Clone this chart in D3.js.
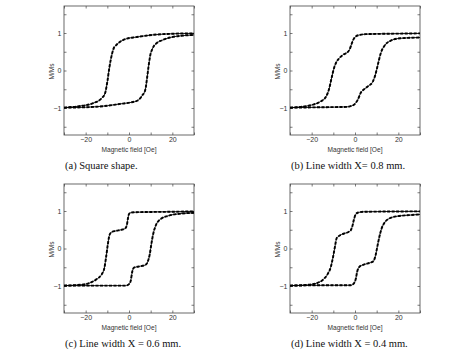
<!DOCTYPE html>
<html lang="en">
<head>
<meta charset="UTF-8">
<title>Hysteresis loops</title>
<script src="https://d3js.org/d3.v7.min.js"></script>
<style>
  body { margin: 0; background: #fff; }
  svg { display: block; }
  .tick text { font-family: 'Liberation Sans', Arial, sans-serif; font-size: 7px; fill: #333; }
  .tick line { stroke: #444; stroke-width: 0.7px; }
  .domain { display: none; }
  .frame { fill: none; stroke: #444; stroke-width: 0.8px; }
  .lbl { font-family: 'Liberation Sans', Arial, sans-serif; font-size: 6.6px; fill: #333; }
  .cap { font-family: 'Liberation Serif', 'Times New Roman', serif; font-size: 10.5px; fill: #111; }
  .thin { fill: none; stroke: #000; stroke-width: 0.9px; }
  .dash { fill: none; stroke: #000; stroke-width: 1.9px; stroke-dasharray: 3 1.5; }
</style>
</head>
<body>
<script>
// field [Oe], M/Ms  -- descending (down) and ascending (up) branches
const squareDown = [[-30,-0.99],[-23,-0.95],[-16.5,-0.87],[-12.6,-0.74],[-11,-0.6],[-10,-0.3],[-9,0.1],[-7.8,0.45],[-7,0.6],[-6.2,0.66],[-4,0.77],[-1,0.85],[3.3,0.89],[11,0.95],[20,0.98],[30,0.99]];
const squareUp = [[-30,-0.99],[-20,-0.98],[-10,-0.94],[-4,-0.89],[1,-0.85],[4,-0.8],[6.2,-0.66],[7.5,-0.52],[8.3,-0.22],[9,0.1],[9.8,0.4],[11,0.6],[13,0.74],[15,0.8],[19,0.88],[25,0.93],[30,0.95]];

const w08Down = [[-30,-0.99],[-25,-0.97],[-20,-0.92],[-16,-0.83],[-13.4,-0.7],[-12,-0.5],[-10.8,-0.2],[-9.6,0.08],[-8.8,0.2],[-7.4,0.32],[-5.2,0.43],[-3.2,0.5],[-2.5,0.56],[-1.5,0.72],[-0.4,0.86],[1.5,0.94],[5,0.97],[15,0.98],[30,0.99]];
const w08Up = [[-30,-0.99],[-15,-0.98],[-4,-0.97],[-1,-0.93],[1.2,-0.79],[2.8,-0.58],[4.2,-0.5],[6.5,-0.4],[8.2,-0.3],[9.2,-0.15],[10,0.02],[10.9,0.24],[12,0.48],[13.6,0.66],[16.3,0.79],[21,0.86],[30,0.88]];

const w06Down = [[-30,-0.99],[-21,-0.96],[-17,-0.89],[-14.5,-0.8],[-12.5,-0.68],[-11.4,-0.53],[-10.5,-0.2],[-9.8,0.1],[-9,0.36],[-8,0.44],[-6,0.47],[-3.5,0.5],[-1.8,0.53],[-1,0.62],[-0.5,0.8],[0,0.92],[1,0.96],[5,0.97],[20,0.98],[30,0.99]];
const w06Up = [[-30,-0.99],[-10,-0.99],[-1.5,-0.99],[0,-0.95],[0.8,-0.86],[1.5,-0.62],[2.3,-0.51],[4.5,-0.48],[7.5,-0.44],[8.6,-0.36],[9.6,-0.15],[10.4,0.15],[11.3,0.42],[12.4,0.62],[14.5,0.78],[18,0.87],[24,0.93],[30,0.95]];

const w04Down = [[-30,-0.99],[-22,-0.97],[-17.5,-0.92],[-14.5,-0.82],[-12.5,-0.67],[-11.2,-0.5],[-10.1,-0.22],[-9.1,0.1],[-8.5,0.27],[-7.5,0.33],[-5,0.4],[-3,0.44],[-2,0.48],[-1.2,0.6],[-0.5,0.77],[0.3,0.91],[1.5,0.96],[4,0.98],[30,0.99]];
const w04Up = [[-30,-0.99],[-10,-0.98],[-2,-0.98],[-0.5,-0.93],[0.4,-0.8],[1,-0.62],[2,-0.49],[4,-0.43],[7,-0.38],[8.5,-0.34],[9.5,-0.18],[10.3,0.05],[11.2,0.3],[12.2,0.52],[13.3,0.66],[15.5,0.79],[19.4,0.86],[25,0.89],[30,0.91]];

const captions = ["(a) Square shape.", "(b) Line width X= 0.8 mm.", "(c) Line width X = 0.6 mm.", "(d) Line width X = 0.4 mm."];
const xTicks = [-30, -20, -10, 0, 10, 20, 30];
const xLabels = [-20, 0, 20];
const yTicks = [-1.5, -1, -0.5, 0, 0.5, 1, 1.5];
const yLabels = [-1, 0, 1];

const curves = [[squareDown, squareUp], [w08Down, w08Up], [w06Down, w06Up], [w04Down, w04Up]];
const origins = [[64, 6], [290, 6], [64, 184], [290, 184]];

const width = 130, height = 129;

const x = d3.scaleLinear().domain([-30, 30]).range([0, width]);
const y = d3.scaleLinear().domain([-1.72, 1.72]).range([height, 0]);

const line = d3.line()
    .x(d => x(d[0]))
    .y(d => y(d[1]))
    .curve(d3.curveMonotoneX);

const svg = d3.select("body").append("svg")
    .attr("width", 474)
    .attr("height", 353);

svg.append("rect").attr("width", 474).attr("height", 353).attr("fill", "#fff");

const fmt = d3.format("");

curves.forEach((pair, i) => {
    const g = svg.append("g")
        .attr("transform", "translate(" + origins[i][0] + "," + origins[i][1] + ")");

    // axes with inward ticks, mirrored on top/right
    g.append("g")
        .attr("transform", "translate(0," + height + ")")
        .call(d3.axisBottom(x).tickValues(xTicks).tickSize(-2.5).tickPadding(2.5)
            .tickFormat(d => xLabels.includes(d) ? fmt(d) : ""));
    g.append("g")
        .call(d3.axisTop(x).tickValues(xTicks).tickSize(-2.5).tickFormat(""));
    g.append("g")
        .call(d3.axisLeft(y).tickValues(yTicks).tickSize(-2.5).tickPadding(2.5)
            .tickFormat(d => yLabels.includes(d) ? fmt(d) : ""));
    g.append("g")
        .attr("transform", "translate(" + width + ",0)")
        .call(d3.axisRight(y).tickValues(yTicks).tickSize(-2.5).tickFormat(""));

    g.append("rect").attr("class", "frame")
        .attr("width", width).attr("height", height);

    pair.forEach(branch => {
        g.append("path").datum(branch).attr("class", "thin").attr("d", line);
        g.append("path").datum(branch).attr("class", "dash").attr("d", line);
    });

    g.append("text").attr("class", "lbl")
        .attr("x", width / 2).attr("y", height + 17)
        .attr("text-anchor", "middle")
        .text("Magnetic field [Oe]");

    g.append("text").attr("class", "lbl")
        .attr("transform", "translate(-10," + (height / 2 + 1) + ") rotate(-90)")
        .attr("text-anchor", "middle")
        .text("M/Ms");

    g.append("text").attr("class", "cap")
        .attr("x", 1).attr("y", height + 34)
        .text(captions[i]);
});
</script>
</body>
</html>
